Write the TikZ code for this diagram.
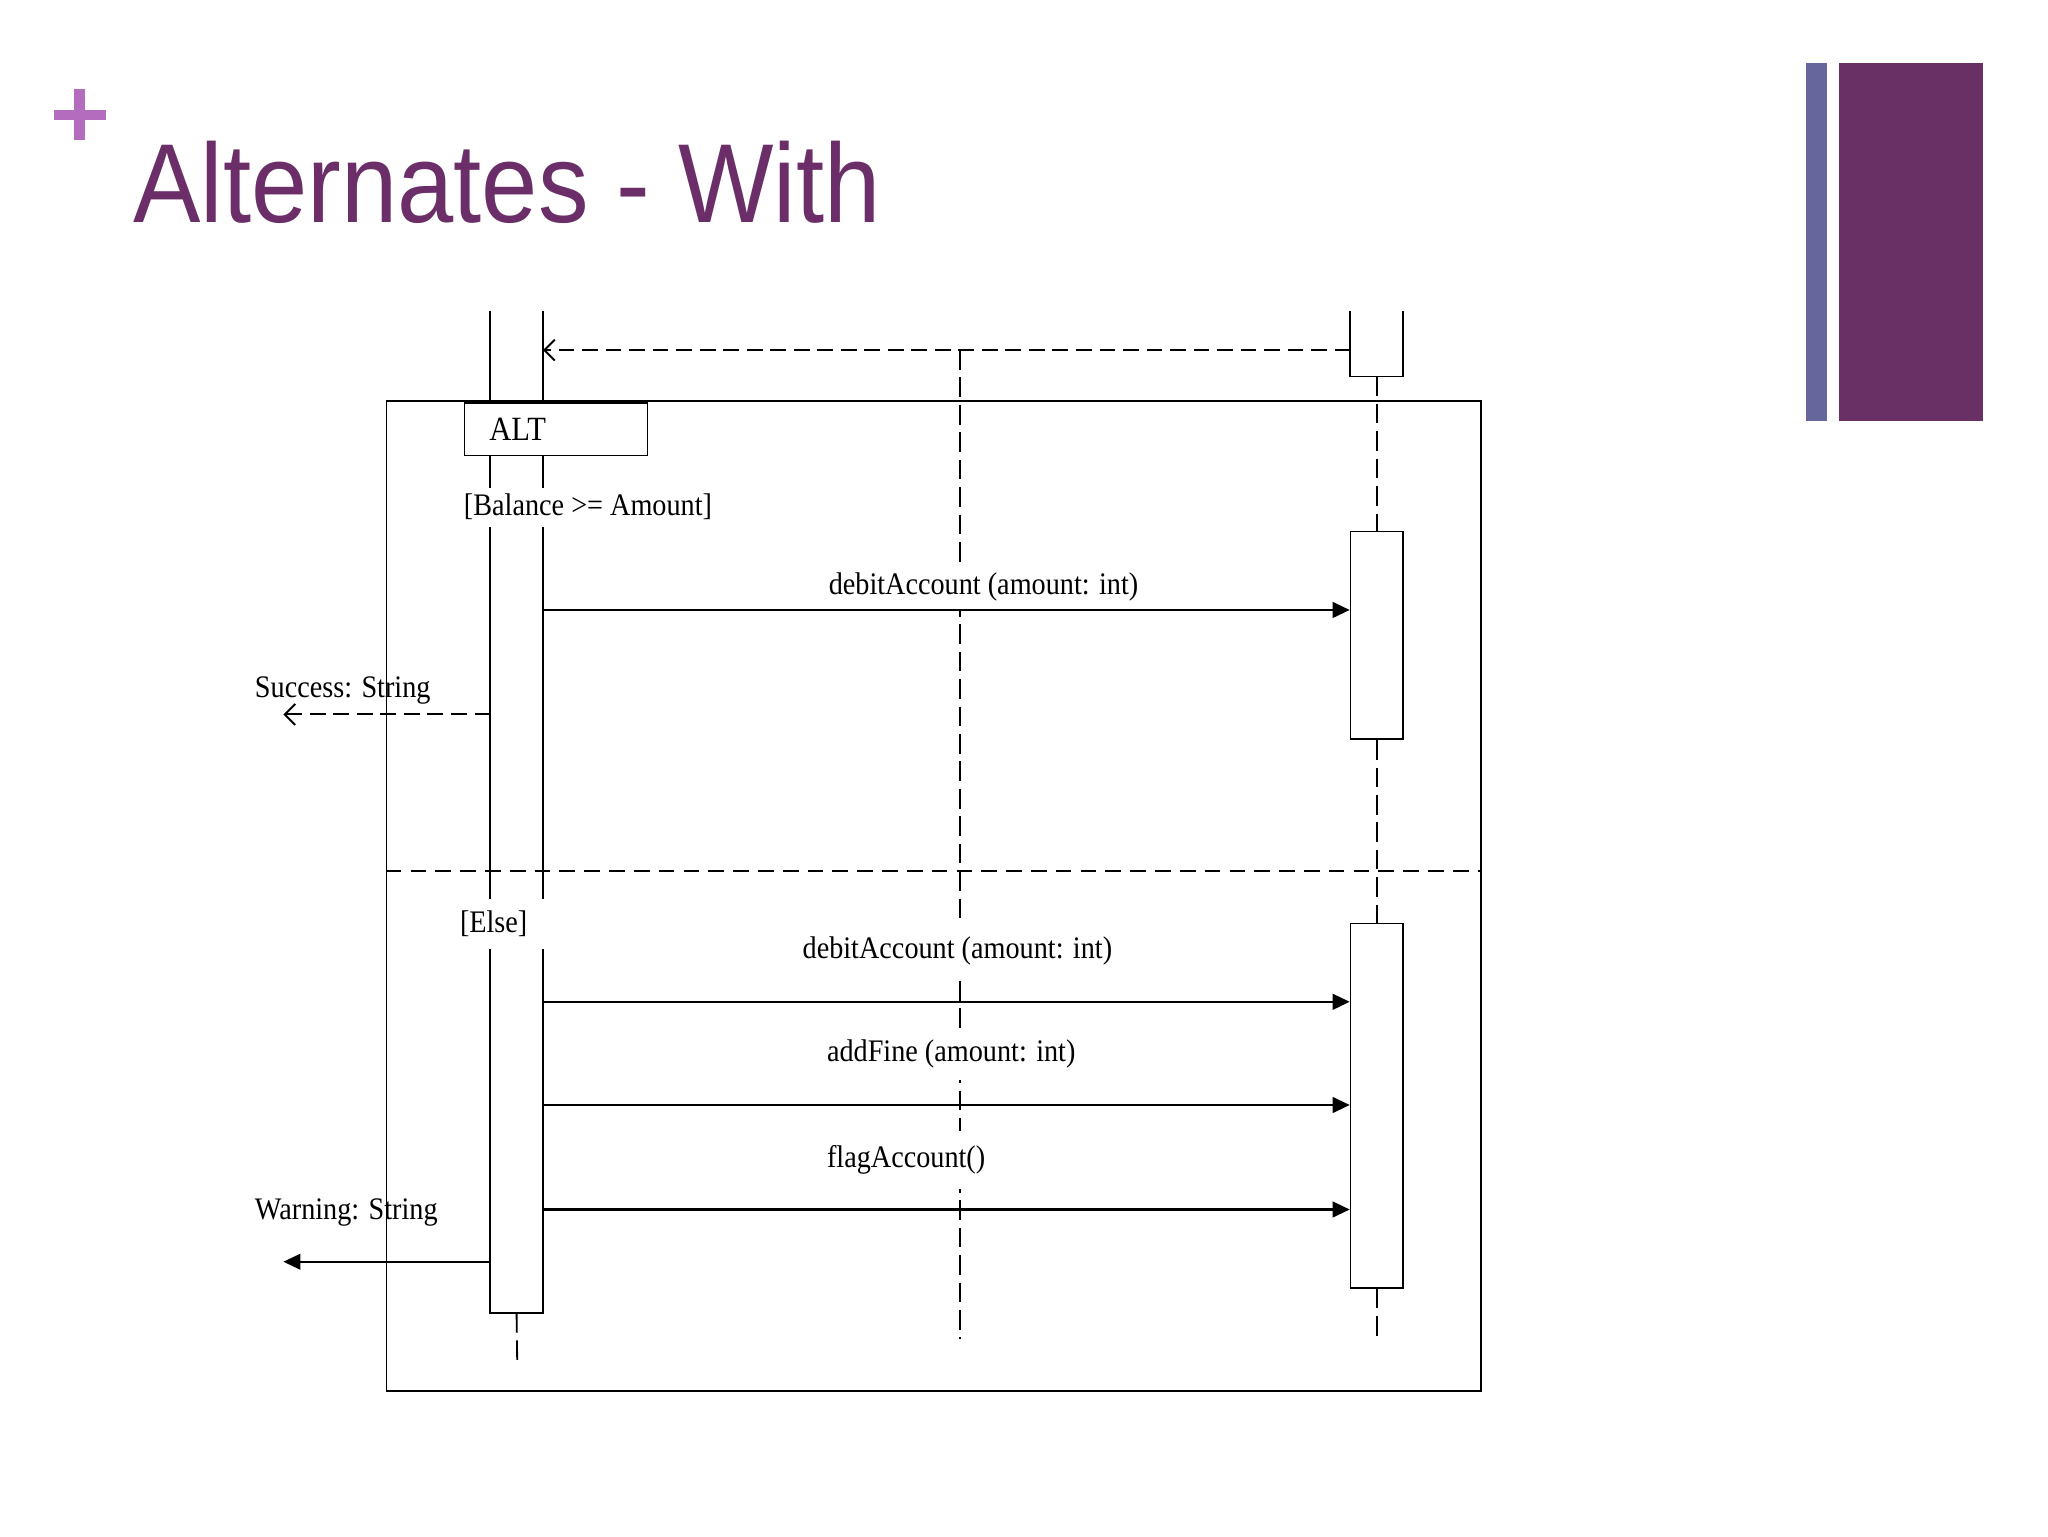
\documentclass[tikz,border=0pt]{standalone}
\usepackage{fontspec}
\usepackage{graphicx}
\setmainfont{Liberation Serif}[FakeStretch=0.9]
\newfontfamily\titlefont{Liberation Sans}
\usetikzlibrary{arrows.meta}
\definecolor{titlepurple}{HTML}{6B2E68}
\definecolor{plumbar}{HTML}{693065}
\definecolor{slatebar}{HTML}{66669C}
\definecolor{pluscol}{HTML}{B36CBE}
\begin{document}
\begin{tikzpicture}[x=1pt,y=-1pt,
  framed/.style={draw=black, line width=1.3pt},
  lifeline/.style={line width=1.4pt, dash pattern=on 15pt off 6pt},
  sepline/.style={line width=1.4pt, dash pattern=on 12pt off 7pt},
  actbox/.style={draw=black, fill=white, line width=1.3pt, minimum width=40pt, inner sep=0pt},
  openact/.style={draw=none, minimum width=40pt, inner sep=0pt},
  msg/.style={line width=1.6pt, -{Triangle[length=13pt,width=12pt]}},
  reply/.style={line width=1.5pt, dash pattern=on 12pt off 6pt, -{Straight Barb[length=8pt,width=16pt,line width=1.5pt]}},
  lbl/.style={font=\fontsize{24}{28}\selectfont, inner sep=2pt},
  clr/.style={lbl, fill=white, inner xsep=3pt, inner ysep=9pt}]
\useasboundingbox[fill=white] (0,0) rectangle (1568,1176);

% decorations of the slide
\fill[pluscol] (57,68) rectangle (65,107);
\fill[pluscol] (41,84) rectangle (81,92);
\fill[slatebar] (1383,48) rectangle (1399,322);
\fill[plumbar] (1408,48) rectangle (1518,322);
\node[anchor=base west, inner sep=0pt, text=titlepurple, font=\titlefont\fontsize{86}{100}\selectfont] (title) at (102,170) {\scalebox{0.9}[1]{Alternates - With}};

% level coordinates
\coordinate (y268) at (0,268);
\coordinate (y467) at (0,467);
\coordinate (y547) at (0,547);
\coordinate (y667) at (0,667);
\coordinate (y767) at (0,767);
\coordinate (y846) at (0,846);
\coordinate (y926) at (0,926);
\coordinate (y966) at (0,966);

% frame
\node[framed, minimum width=838pt, minimum height=758pt, inner sep=0pt] (altframe) at (715,686) {};
\draw[sepline] (altframe.west |- y667) -- (altframe.east |- y667);

% left activation (open top)
\node[openact, minimum height=767pt] (lAct) at (395.5,621.5) {};
\draw[framed] (lAct.north west) -- (lAct.south west) -- (lAct.south east) -- (lAct.north east);
\coordinate (lEnd) at (396,1043);
\draw[lifeline] (lAct.south) -- (lEnd);

% middle lifeline
\coordinate (mTop) at (735,268);
\coordinate (mEnd) at (735,1025);
\draw[lifeline] (mTop) -- (mEnd);

% right lifeline and activations
\node[openact, minimum height=50pt] (rAct0) at (1054,263) {};
\draw[framed] (rAct0.north west) -- (rAct0.south west) -- (rAct0.south east) -- (rAct0.north east);
\node[actbox, minimum height=159pt] (rAct1) at (1054,486.5) {};
\node[actbox, minimum height=279pt] (rAct2) at (1054,846.5) {};
\coordinate (rEnd) at (1054,1025);
\draw[lifeline] (rAct0.south) -- (rAct1.north);
\draw[lifeline] (rAct1.south) -- (rAct2.north);
\draw[lifeline] (rAct2.south) -- (rEnd);

% messages
\draw[reply] (rAct0.west |- y268) -- (lAct.east |- y268);
\draw[msg] (lAct.east |- y467) -- (rAct1.west |- y467);
\coordinate (sEnd) at (217,547);
\draw[reply] (lAct.west |- y547) -- (sEnd);
\draw[msg] (lAct.east |- y767) -- (rAct2.west |- y767);
\draw[msg] (lAct.east |- y846) -- (rAct2.west |- y846);
\draw[msg] (lAct.east |- y926) -- (rAct2.west |- y926);
\coordinate (wEnd) at (217,966);
\draw[msg] (lAct.west |- y966) -- (wEnd);

% ALT tag
\node[draw=black, fill=white, line width=1.3pt, anchor=north west, minimum width=140pt, minimum height=40pt,
      text width=102pt, align=left, inner xsep=19pt, inner ysep=0pt,
      font=\fontsize{26}{28}\selectfont] (alt) at (355,308) {ALT};

% labels
\node[clr, inner ysep=5pt, anchor=base west] (g1) at (352,395) {[Balance >= Amount]};
\node[clr, inner ysep=6pt, anchor=base] (m1) at (753,455) {debitAccount (amount: int)};
\node[lbl, anchor=base west] (s1) at (193,534) {Success: String};
\node[clr, anchor=base west, text width=62pt, align=left, minimum height=36pt] (g2) at (349,714) {[Else]};
\node[clr, anchor=base] (m2) at (733,734) {debitAccount (amount: int)};
\node[clr, anchor=base west] (m3) at (630,813) {addFine (amount: int)};
\node[clr, inner ysep=11pt, anchor=base west] (m4) at (630,894) {flagAccount()};
\node[lbl, anchor=base west] (w1) at (193,934) {Warning: String};
\end{tikzpicture}
\end{document}
